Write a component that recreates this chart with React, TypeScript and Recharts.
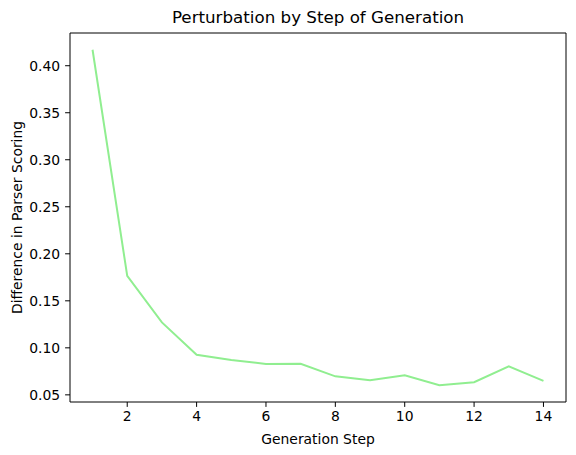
import { LineChart, Line, XAxis, YAxis, Label, ReferenceLine } from 'recharts'

const steps = [1, 2, 3, 4, 5, 6, 7, 8, 9, 10, 11, 12, 13, 14]
const diffs = [0.417, 0.1765, 0.127, 0.0927, 0.087, 0.0829, 0.083, 0.0697, 0.0655, 0.0708, 0.0602, 0.0634, 0.0803, 0.0649]
const xTicks = [2, 4, 6, 8, 10, 12, 14]
const yTicks = [0.05, 0.1, 0.15, 0.2, 0.25, 0.3, 0.35, 0.4]

const xDomain = [0.35, 14.65]
const yDomain = [0.0424, 0.4348]

const data = steps.map((s, i) => ({ step: s, diff: diffs[i] }))

const font = '"DejaVu Sans", sans-serif'
const fs = 13.9
const tickStyle = { fill: '#000', fontFamily: font, fontSize: fs }

const YLabel = ({ viewBox }: any) => {
  const cx = viewBox.x + 17
  const cy = viewBox.y + viewBox.height / 2
  return (
    <text
      x={cx}
      y={cy}
      transform={`rotate(-90, ${cx}, ${cy})`}
      textAnchor="middle"
      dominantBaseline="central"
      fontSize={fs}
      fontFamily={font}
      fill="#000"
    >
      Difference in Parser Scoring
    </text>
  )
}

export default function App() {
  return (
    <div style={{ position: 'absolute', left: 0, top: 0, width: 576, height: 455, background: '#fff' }}>
      <div
        style={{
          position: 'absolute',
          left: 70,
          width: 496,
          top: 7,
          textAlign: 'center',
          fontFamily: font,
          fontSize: 16.7,
          lineHeight: '20px',
          color: '#000'
        }}
      >
        Perturbation by Step of Generation
      </div>
      <LineChart
        width={576}
        height={455}
        data={data}
        margin={{ top: 33, right: 10, bottom: 0, left: 0 }}
        style={{ fontFamily: font, fontSize: fs }}
      >
        <XAxis
          dataKey="step"
          type="number"
          domain={xDomain}
          ticks={xTicks}
          allowDataOverflow
          height={53}
          stroke="#000"
          fontSize={fs}
          tickSize={4.9}
          tickMargin={4.4}
          tick={tickStyle}
        >
          <Label
            value="Generation Step"
            position="insideBottom"
            offset={11}
            style={{ fontSize: fs, fontFamily: font, fill: '#000' }}
          />
        </XAxis>
        <YAxis
          type="number"
          domain={yDomain}
          ticks={yTicks}
          allowDataOverflow
          width={70}
          stroke="#000"
          fontSize={fs}
          tickSize={4.9}
          tickMargin={4.9}
          tick={tickStyle}
          tickFormatter={(v: number) => v.toFixed(2)}
        >
          <Label content={YLabel} />
        </YAxis>
        <ReferenceLine y={yDomain[1]} stroke="#000" strokeWidth={1} />
        <ReferenceLine x={xDomain[1]} stroke="#000" strokeWidth={1} />
        <Line
          dataKey="diff"
          stroke="#90ee90"
          strokeWidth={2}
          dot={false}
          isAnimationActive={false}
        />
      </LineChart>
    </div>
  )
}
